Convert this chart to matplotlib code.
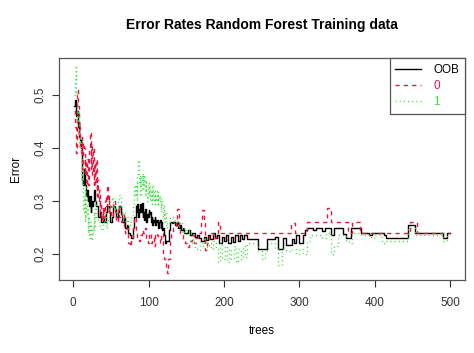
import matplotlib
matplotlib.use("Agg")
import matplotlib.pyplot as plt
from matplotlib.lines import Line2D

# ---- data: change points (tree, error) ----
oob_trees = [1, 2, 3, 4, 5, 6, 7, 8, 9, 10, 11, 12, 13, 14, 15, 16, 17, 18, 19, 20, 21, 22, 23, 24, 25, 26, 27, 28, 29, 30,
             31, 33, 35, 37, 39, 41, 43, 45, 47, 49, 51, 53, 55, 57, 59, 61, 63, 65, 67, 69, 71, 73, 75, 77, 79, 81,
             83, 84, 85, 86, 87, 88, 89, 90, 91, 92, 93, 94, 95, 96, 97, 98, 99, 100, 101, 102, 103, 104, 105, 106, 107,
             108, 109, 110, 111, 112, 113, 114, 115, 116, 117, 118, 119, 120, 121, 122, 123, 125, 127, 129, 131, 133, 135,
             137, 139, 141, 143, 145, 147, 149, 152, 155, 158, 161, 164, 167, 170, 173, 176, 179, 182, 185, 188, 191, 194,
             197, 200, 203, 206, 209, 212, 215, 218, 221, 224, 227, 230, 245, 257, 268, 272, 279, 283, 290, 293, 296, 300,
             305, 308, 310, 318, 322, 330, 334, 342, 346, 358, 362, 369, 382, 392, 396, 412, 415, 444, 454, 491, 496, 500]
oob_err = [0.48, 0.49, 0.47, 0.46, 0.47, 0.44, 0.45, 0.42, 0.415, 0.40, 0.38, 0.34, 0.33, 0.36, 0.34, 0.33, 0.31, 0.32, 0.30,
           0.31, 0.29, 0.31, 0.28, 0.30, 0.29, 0.30, 0.31, 0.32, 0.30, 0.29,
           0.29, 0.27, 0.28, 0.26, 0.27, 0.26, 0.28, 0.29, 0.28, 0.26, 0.27, 0.29, 0.285, 0.27, 0.28, 0.29, 0.275, 0.26,
           0.27, 0.25, 0.255, 0.24, 0.235, 0.23, 0.25, 0.27,
           0.29, 0.28, 0.295, 0.27, 0.285, 0.28, 0.295, 0.28, 0.296, 0.27, 0.28, 0.265, 0.285, 0.27, 0.26, 0.275, 0.27,
           0.283, 0.275, 0.28, 0.26, 0.27, 0.255, 0.265, 0.26, 0.27, 0.255, 0.265, 0.26, 0.265, 0.25, 0.26, 0.264, 0.25,
           0.26, 0.245, 0.25, 0.24, 0.235, 0.22, 0.225,
           0.225, 0.245, 0.26, 0.258, 0.26, 0.255, 0.26, 0.25, 0.255, 0.245, 0.25, 0.24, 0.24,
           0.245, 0.235, 0.24, 0.232, 0.235, 0.23, 0.225, 0.232, 0.226, 0.235, 0.228, 0.24, 0.23, 0.235, 0.22,
           0.232, 0.225, 0.235, 0.22, 0.232, 0.222, 0.235, 0.225, 0.235, 0.228, 0.236, 0.228, 0.21, 0.228, 0.232, 0.21,
           0.23, 0.218, 0.228, 0.22, 0.235, 0.22, 0.235, 0.245, 0.25, 0.245, 0.25, 0.243, 0.25, 0.235, 0.25, 0.238, 0.23,
           0.25, 0.24, 0.235, 0.24, 0.235, 0.23, 0.255, 0.24, 0.23, 0.24, 0.24]

c0_trees = [1, 2, 3, 4, 5, 6, 7, 8, 9, 10, 11, 12, 13, 14, 15, 16, 17, 18, 19, 20, 21, 22, 23, 24, 25, 26, 27, 28, 29, 30,
            31, 32, 33, 34, 35, 36, 37, 38, 39, 40, 41, 42, 43, 44, 45, 46, 47, 48, 49, 50, 51, 53, 55, 57, 59, 61, 63, 65,
            67, 69, 71, 73, 75, 77, 79, 81, 83, 85, 87, 89, 91, 93, 95, 97, 99, 101, 103, 105, 107, 109, 111, 113, 115, 117,
            119, 121, 123, 125, 126, 128, 130, 133, 136, 138, 140, 142, 144, 146, 148, 151, 154, 157, 160, 163, 166, 169,
            171, 173, 175, 177, 180, 186, 189, 192, 195, 289, 294, 310, 337, 342, 365, 370, 381, 447, 456, 500]
c0_err = [0.47, 0.44, 0.40, 0.39, 0.51, 0.48, 0.42, 0.44, 0.40, 0.39, 0.42, 0.36, 0.41, 0.40, 0.35, 0.38, 0.33, 0.38, 0.34,
          0.33, 0.40, 0.43, 0.36, 0.41, 0.35, 0.40, 0.33, 0.37, 0.33, 0.38, 0.31, 0.34, 0.30, 0.32, 0.28, 0.30, 0.265, 0.28,
          0.265, 0.29, 0.27, 0.30, 0.31, 0.29, 0.33, 0.30, 0.31, 0.28, 0.29, 0.27, 0.27, 0.30, 0.28, 0.26, 0.29, 0.27, 0.26,
          0.28, 0.25, 0.24, 0.25, 0.22, 0.215, 0.23, 0.25, 0.27, 0.24, 0.23, 0.225, 0.235, 0.245, 0.24, 0.25, 0.23, 0.22,
          0.24, 0.22, 0.23, 0.215, 0.24, 0.235, 0.23, 0.22, 0.24, 0.20, 0.19, 0.17, 0.165, 0.19, 0.23, 0.24, 0.25, 0.26,
          0.285, 0.25, 0.24, 0.235, 0.225, 0.22, 0.213, 0.225, 0.235, 0.22, 0.23, 0.24, 0.26, 0.283, 0.26, 0.207, 0.22,
          0.24, 0.23, 0.24, 0.26, 0.24, 0.258, 0.24, 0.261, 0.287, 0.261, 0.24, 0.26, 0.24, 0.26, 0.24, 0.24]

c1_trees = [1, 2, 3, 4, 5, 6, 7, 8, 9, 10, 11, 12, 13, 14, 15, 16, 17, 18, 19, 20, 21, 22, 23, 24, 25, 26, 27, 28, 29, 30,
            31, 33, 35, 37, 39, 41, 43, 45, 47, 49, 51, 53, 55, 57, 59, 61, 63, 65, 67, 69, 71, 73, 75, 77, 79,
            80, 81, 82, 83, 84, 85, 86, 87, 88, 89, 90, 91, 92, 93, 94, 95, 96, 97, 98, 99, 100, 101, 102, 103, 104, 105,
            106, 107, 108, 109, 110, 111, 112, 113, 114, 115, 116, 117, 118, 119, 120, 121, 122, 123, 124, 126, 129, 132,
            135, 138, 141, 144, 147, 150, 153, 156, 159, 162, 165, 168, 171, 174, 177, 180, 183, 186, 189, 192, 195, 198,
            201, 204, 207, 210, 213, 216, 219, 222, 225, 228, 231, 245, 250, 254, 258, 268, 272, 277, 283, 290, 295, 300,
            305, 310, 314, 330, 336, 342, 346, 352, 362, 366, 370, 382, 395, 400, 410, 414, 444, 454, 491, 496, 500]
c1_err = [0.50, 0.53, 0.557, 0.50, 0.45, 0.47, 0.43, 0.40, 0.42, 0.38, 0.33, 0.36, 0.28, 0.31, 0.26, 0.33, 0.27, 0.29, 0.24,
          0.27, 0.23, 0.26, 0.24, 0.226, 0.25, 0.24, 0.28, 0.25, 0.30, 0.27,
          0.27, 0.26, 0.25, 0.245, 0.26, 0.28, 0.25, 0.265, 0.29, 0.30, 0.308, 0.29, 0.28, 0.29, 0.30, 0.311, 0.29, 0.27,
          0.28, 0.26, 0.27, 0.25, 0.255, 0.27, 0.29,
          0.30, 0.33, 0.31, 0.334, 0.30, 0.35, 0.377, 0.33, 0.35, 0.31, 0.35, 0.32, 0.353, 0.33, 0.35, 0.31, 0.34, 0.32,
          0.30, 0.33, 0.31, 0.334, 0.30, 0.32, 0.29, 0.33, 0.30, 0.32, 0.29, 0.31, 0.30, 0.32, 0.29, 0.311, 0.30, 0.31,
          0.28, 0.30, 0.29, 0.27, 0.29, 0.26, 0.28, 0.25, 0.26, 0.26, 0.27, 0.26, 0.265, 0.255, 0.26, 0.24, 0.25, 0.235,
          0.245, 0.22, 0.23, 0.21, 0.207, 0.225, 0.215, 0.23, 0.213, 0.22, 0.21, 0.225, 0.21, 0.185, 0.22, 0.19, 0.215,
          0.185, 0.21, 0.19, 0.215, 0.185, 0.21, 0.19, 0.215, 0.195, 0.22, 0.205, 0.19, 0.205, 0.22, 0.21, 0.18, 0.21,
          0.205, 0.21, 0.20, 0.21, 0.20, 0.225, 0.236, 0.23, 0.24, 0.20, 0.215, 0.236, 0.225, 0.22, 0.24, 0.236, 0.23,
          0.236, 0.22, 0.225, 0.25, 0.235, 0.225, 0.236, 0.236]

legend_labels = ["OOB", "0", "1"]
x_ticks = [0, 100, 200, 300, 400, 500]
y_ticks = [0.2, 0.3, 0.4, 0.5]

plt.rcParams['font.family'] = ['Liberation Sans', 'DejaVu Sans']

fig = plt.figure(figsize=(4.74, 3.53), dpi=100)
ax = fig.add_axes([59 / 474, 1 - 280 / 353, 406 / 474, 222 / 353])

black, red, green = "#000000", "#e8173f", "#3fe03f"
ax.plot(oob_trees, oob_err, color=black, lw=1.0, drawstyle="steps-post")
ax.plot(c0_trees, c0_err, color=red, lw=1.0, drawstyle="steps-post", dashes=(3, 3))
ax.plot(c1_trees, c1_err, color=green, lw=1.0, drawstyle="steps-post", dashes=(0.8, 2.2))

ax.set_xlim(-19, 520)
ax.set_ylim(0.151, 0.570)
ax.set_xticks(x_ticks)
ax.set_xticklabels([str(t) for t in x_ticks])
ax.set_yticks(y_ticks)
ax.set_yticklabels([f"{v:.1f}" for v in y_ticks], rotation=90, va="center")
ax.tick_params(direction="out", length=5, width=0.8, labelsize=8.5, colors="#333333")
ax.tick_params(axis="x", pad=7)
ax.tick_params(axis="y", pad=4)
for s in ax.spines.values():
    s.set_color("#555555")
    s.set_linewidth(0.9)

ax.set_title("Error Rates Random Forest Training data", fontsize=10, fontweight="bold", pad=21)
ax.set_xlabel("trees", fontsize=8.5, labelpad=12)
ax.set_ylabel("Error", fontsize=8.5, labelpad=9)

handles = [Line2D([], [], color=black, lw=1.0),
           Line2D([], [], color=red, lw=1.0, dashes=(3, 3)),
           Line2D([], [], color=green, lw=1.0, dashes=(0.8, 2.2))]
leg = ax.legend(handles, legend_labels, loc="upper right", borderaxespad=0, fancybox=False,
                framealpha=1, edgecolor="#555555", fontsize=8.5, handlelength=2.2, handletextpad=1.0,
                labelspacing=0.35, borderpad=0.5, labelcolor=[black, red, green])
leg.get_frame().set_linewidth(0.9)

fig.savefig("out.png", dpi=100)
